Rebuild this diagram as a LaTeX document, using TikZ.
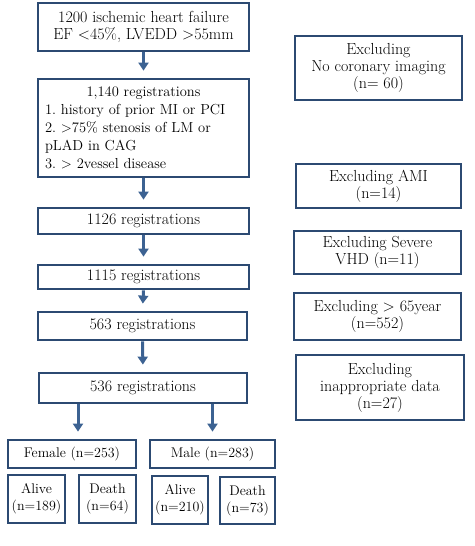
\documentclass[tikz,border=0pt]{standalone}
\usepackage{fontspec}
\usepackage{tikz}
\usetikzlibrary{arrows.meta,positioning,calc}
\definecolor{boxblue}{RGB}{44,74,114}
\definecolor{arrowblue}{RGB}{60,98,146}
\frenchspacing

\begin{document}
\begin{tikzpicture}[x=1pt,y=-1pt,
  flowbox/.style={draw=boxblue,line width=2.8pt,inner sep=0pt,align=center,font=\fontsize{16}{17}\selectfont},
  smallbox/.style={flowbox,font=\fontsize{14}{17}\selectfont},
  flowarrow/.style={arrowblue,line width=3pt,-{Triangle[width=10pt,length=8pt]},shorten >=7pt}]
\useasboundingbox (0,0) rectangle (474,546);
% main column
\node[flowbox,minimum width=211,minimum height=48] (ihf) at (143.5,27) {1200 ischemic heart failure\\EF <45\%, LVEDD >55mm};
\node[smallbox,minimum width=211,minimum height=98,text width=197,align=left,font=\fontsize{14.5}{18}\selectfont] (r1140) at (143.5,128) {\makebox[197pt]{1,140 registrations}\\1. history of prior MI or PCI\\2. >75\% stenosis of LM or\\pLAD in CAG\\3. > 2vessel disease};
\node[flowbox,minimum width=211,minimum height=26] (r1126) at (143.5,221) {1126 registrations};
\node[flowbox,minimum width=211,minimum height=24] (r1115) at (143.5,277) {1115 registrations};
\node[flowbox,minimum width=209,minimum height=28] (r563) at (142.5,326) {563 registrations};
\node[flowbox,minimum width=208,minimum height=30] (r536) at (143,388) {536 registrations};
% sex and outcome
\node[smallbox,minimum width=128,minimum height=28] (fem) at (72,454) {Female (n=253)};
\node[smallbox,minimum width=125,minimum height=28] (male) at (212.5,454) {Male (n=283)};
\node[smallbox,minimum width=57,minimum height=48] (falive) at (36.5,499) {Alive\\(n=189)};
\node[smallbox,minimum width=57,minimum height=48] (fdeath) at (107.5,499) {Death\\(n=64)};
\node[smallbox,minimum width=56,minimum height=48] (malive) at (180,500) {Alive\\(n=210)};
\node[smallbox,minimum width=55,minimum height=47] (mdeath) at (247.5,500.5) {Death\\(n=73)};
% exclusions
\node[flowbox,minimum width=167,minimum height=64] (ex1) at (378.5,68) {Excluding\\No coronary imaging\\(n= 60)};
\node[flowbox,minimum width=165,minimum height=44] (ex2) at (378.5,186) {Excluding AMI\\(n=14)};
\node[flowbox,minimum width=167,minimum height=43] (ex3) at (377.5,252.5) {Excluding Severe\\VHD (n=11)};
\node[flowbox,minimum width=167,minimum height=47] (ex4) at (377.5,316.5) {Excluding > 65year\\(n=552)};
\node[flowbox,minimum width=168,minimum height=65] (ex5) at (380,387.5) {Excluding\\inappropriate data\\(n=27)};
% arrows
\draw[flowarrow] (ihf.south) -- (r1140.north);
\draw[flowarrow] (r1140.south) -- (r1126.north);
\draw[flowarrow] (r1126.south) -- (r1115.north);
\draw[flowarrow] (r1115.south) -- (r563.north);
\draw[flowarrow] (r563.south) -- (r536.north);
\draw[flowarrow] ([xshift=6pt]fem.north |- r536.south) -- ([xshift=6pt]fem.north);
\draw[flowarrow] (male.north |- r536.south) -- (male.north);
\end{tikzpicture}
\end{document}
